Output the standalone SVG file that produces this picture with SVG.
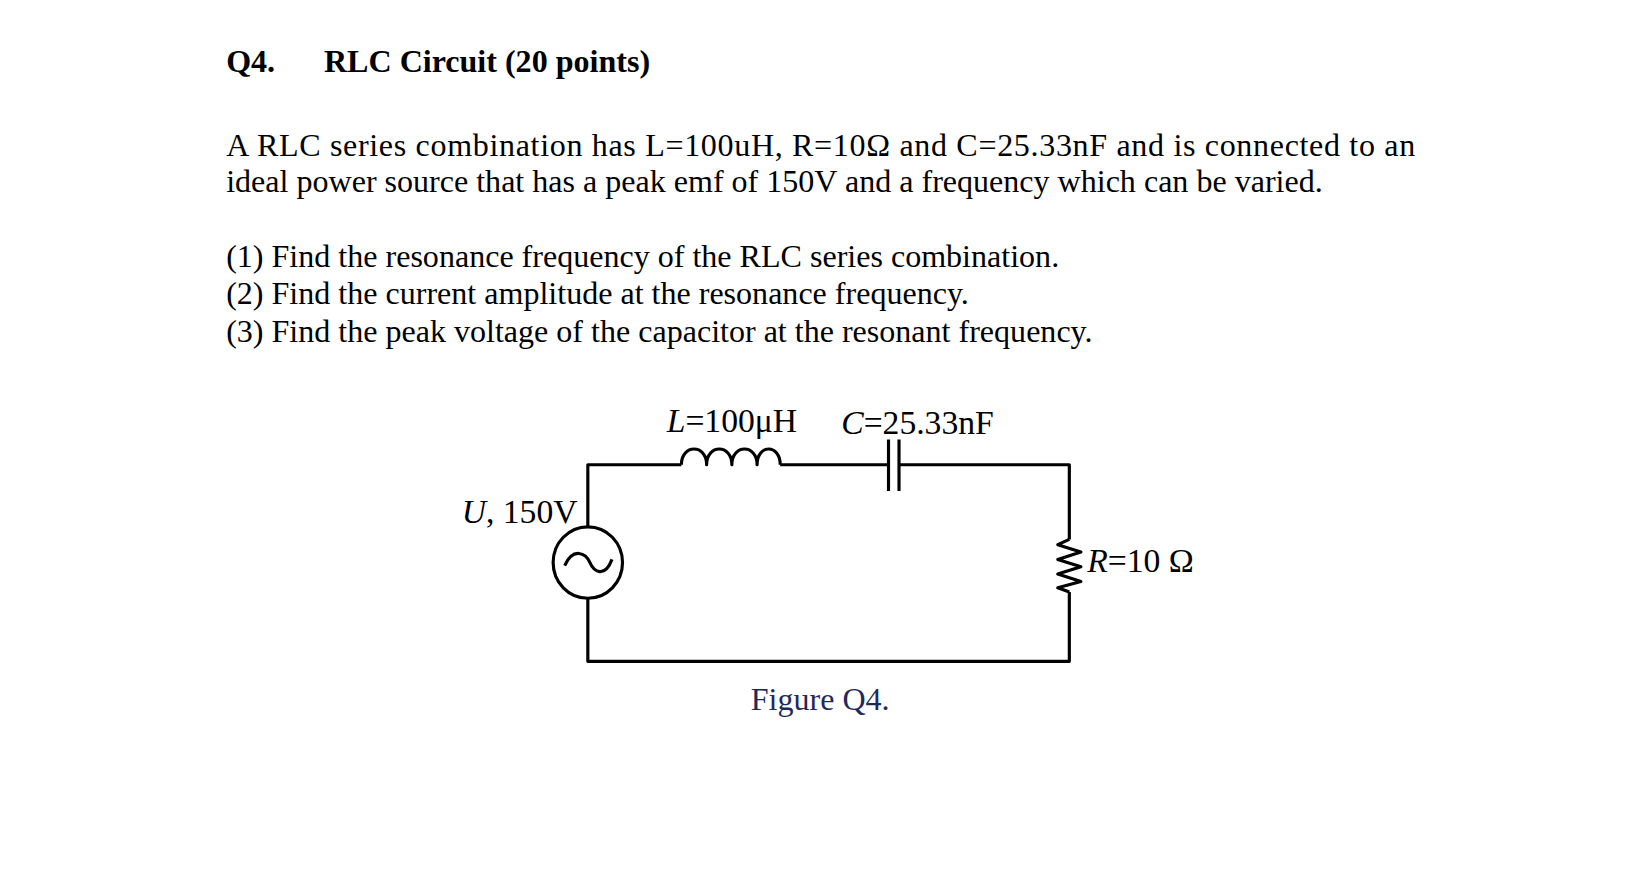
<svg xmlns="http://www.w3.org/2000/svg" width="1640" height="885" viewBox="0 0 1640 885">
<style>
text{font-family:"Liberation Serif","Times New Roman",serif;fill:#000}
.t{font-size:30.5px}
.b{font-size:30.5px;font-weight:bold}
.w{fill:none;stroke:#000;stroke-width:3;stroke-linejoin:round}
.lab{font-size:32px}
</style>
<rect width="1640" height="885" fill="#fff"/>
<g transform="translate(-3,-2) scale(1.0513)">
<g id="text">
<text class="b" x="218" y="70">Q4.</text>
<text class="b" x="311" y="70">RLC Circuit (20 points)</text>
<text class="t" x="218" y="150" textLength="1131" lengthAdjust="spacing">A RLC series combination has L=100uH, R=10Ω and C=25.33nF and is connected to an</text>
<text class="t" x="218" y="185">ideal power source that has a peak emf of 150V and a frequency which can be varied.</text>
<text class="t" x="218" y="256">(1) Find the resonance frequency of the RLC series combination.</text>
<text class="t" x="218" y="291">(2) Find the current amplitude at the resonance frequency.</text>
<text class="t" x="218" y="327">(3) Find the peak voltage of the capacitor at the resonant frequency.</text>
</g>
<g id="connectors">
<path class="w" d="M562,504 V444 H651 M745,444 H848 M858,444 H1020 V515 M1020,565 V631 H562 V570"/>
</g>
<g id="source">
<ellipse class="w" cx="562" cy="537" rx="33" ry="34"/>
<path class="w" d="M540,540 C548,522 560,528 564,537 C568,546 578,552 585,534"/>
<text class="lab" x="442" y="499"><tspan font-style="italic">U</tspan>, 150V</text>
</g>
<g id="inductor">
<path class="w" d="M651,444 C651,424 675,424 675,444 C675,424 699,424 699,444 C699,424 723,424 723,444 C723,424 745,424 745,444"/>
<text class="lab" x="637" y="413"><tspan font-style="italic">L</tspan>=100μH</text>
</g>
<g id="capacitor">
<path class="w" d="M848,420 V469 M858,420 V469"/>
<text class="lab" x="803" y="415"><tspan font-style="italic">C</tspan>=25.33nF</text>
</g>
<g id="resistor">
<path class="w" d="M1020,515 L1009,520 L1031,527 L1009,534 L1031,541 L1009,548 L1031,555 L1009,561 L1020,565"/>
<text class="lab" x="1037" y="546"><tspan font-style="italic">R</tspan>=10 Ω</text>
</g>
<text x="783" y="677" text-anchor="middle" style="font-size:30.5px;fill:#1f2a5a">Figure Q4.</text>
</g>
</svg>
